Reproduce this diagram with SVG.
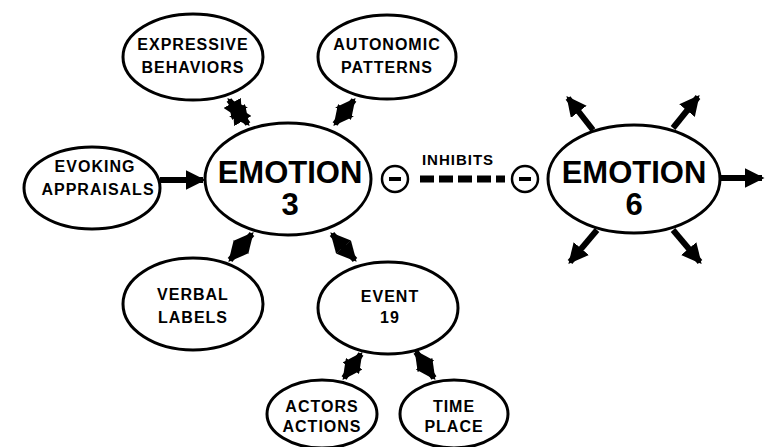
<svg xmlns="http://www.w3.org/2000/svg" width="783" height="447" viewBox="0 0 783 447">
<style>
.n{fill:#fff;stroke:#000;stroke-width:3}
.t{font-family:"Liberation Sans",Arial,sans-serif;font-weight:bold;font-size:16px;text-anchor:middle;fill:#000;letter-spacing:1px}
.b{font-size:31px;letter-spacing:0}
.c{stroke:#000;stroke-width:6;fill:none}
</style>
<defs>
<marker id="h" markerUnits="userSpaceOnUse" markerWidth="20" markerHeight="20" refX="14" refY="8" orient="auto-start-reverse" viewBox="0 0 16 16">
<path d="M0,0 L16,8 L0,16 Z" fill="#000"/>
</marker>
</defs>
<g id="connectors">
<line class="c" x1="241" y1="118" x2="234" y2="106" marker-start="url(#h)" marker-end="url(#h)" transform="translate(0,0)"/>
<line class="c" x1="248" y1="124" x2="229" y2="100" marker-start="url(#h)" marker-end="url(#h)"/>
<line class="c" x1="335" y1="124" x2="354" y2="100" marker-start="url(#h)" marker-end="url(#h)"/>
<line class="c" x1="252" y1="234" x2="230" y2="260" marker-start="url(#h)" marker-end="url(#h)"/>
<line class="c" x1="332" y1="234" x2="355" y2="260" marker-start="url(#h)" marker-end="url(#h)"/>
<line class="c" x1="361" y1="354" x2="344" y2="378" marker-start="url(#h)" marker-end="url(#h)"/>
<line class="c" x1="416" y1="352" x2="434" y2="378" marker-start="url(#h)" marker-end="url(#h)"/>
<line class="c" x1="160" y1="180" x2="203" y2="180" marker-end="url(#h)"/>
<line class="c" x1="593" y1="130" x2="568" y2="98" marker-end="url(#h)"/>
<line class="c" x1="673" y1="128" x2="698" y2="97" marker-end="url(#h)"/>
<line class="c" x1="597" y1="230" x2="570" y2="262" marker-end="url(#h)"/>
<line class="c" x1="673" y1="230" x2="700" y2="262" marker-end="url(#h)"/>
<line class="c" x1="720" y1="178" x2="762" y2="178" marker-end="url(#h)"/>
<line x1="420" y1="179" x2="505" y2="179" stroke="#000" stroke-width="7" stroke-dasharray="14,5"/>
<circle cx="395" cy="179" r="13" fill="none" stroke="#000" stroke-width="2.5"/>
<line x1="389" y1="179" x2="401" y2="179" stroke="#000" stroke-width="4"/>
<circle cx="525" cy="179" r="13" fill="none" stroke="#000" stroke-width="2.5"/>
<line x1="519" y1="179" x2="531" y2="179" stroke="#000" stroke-width="4"/>
<text class="t" x="458" y="165" style="font-size:15px">INHIBITS</text>
</g>
<g id="expressive"><ellipse class="n" cx="193" cy="57" rx="70" ry="43"/><text class="t" x="193" y="50">EXPRESSIVE</text><text class="t" x="193" y="73">BEHAVIORS</text></g>
<g id="autonomic"><ellipse class="n" cx="387" cy="57" rx="69" ry="42"/><text class="t" x="387" y="50">AUTONOMIC</text><text class="t" x="387" y="73">PATTERNS</text></g>
<g id="evoking"><ellipse class="n" cx="92" cy="188" rx="68" ry="41"/><text class="t" x="95" y="172">EVOKING</text><text class="t" x="98" y="195">APPRAISALS</text></g>
<g id="emotion3"><ellipse class="n" cx="288" cy="179" rx="83" ry="56"/><text class="t b" x="290" y="183">EMOTION</text><text class="t b" x="290" y="215">3</text></g>
<g id="emotion6"><ellipse class="n" cx="634" cy="179" rx="86" ry="54"/><text class="t b" x="634" y="183">EMOTION</text><text class="t b" x="634" y="215">6</text></g>
<g id="verbal"><ellipse class="n" cx="193" cy="304" rx="70" ry="46"/><text class="t" x="193" y="300">VERBAL</text><text class="t" x="193" y="323">LABELS</text></g>
<g id="event"><ellipse class="n" cx="388" cy="308" rx="70" ry="46"/><text class="t" x="390" y="302">EVENT</text><text class="t" x="390" y="323">19</text></g>
<g id="actors"><ellipse class="n" cx="322" cy="414" rx="55" ry="34"/><text class="t" x="322" y="412">ACTORS</text><text class="t" x="322" y="432">ACTIONS</text></g>
<g id="time"><ellipse class="n" cx="454" cy="414" rx="54" ry="34"/><text class="t" x="454" y="412">TIME</text><text class="t" x="454" y="432">PLACE</text></g>
</svg>
